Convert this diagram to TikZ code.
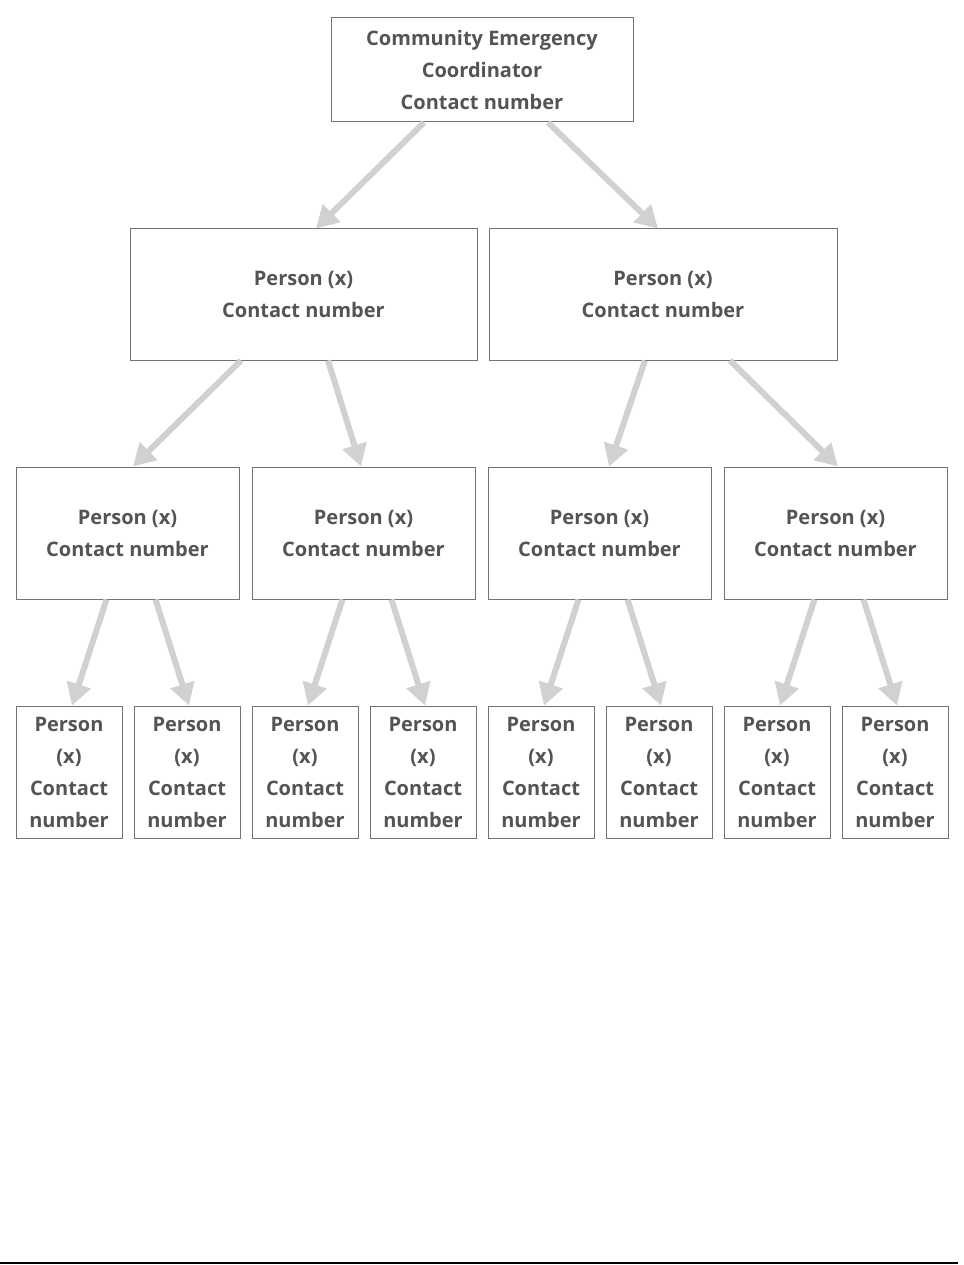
\documentclass[tikz,border=0pt]{standalone}
\usepackage{fontspec}
\setmainfont{Open Sans}
\usetikzlibrary{arrows.meta}
\definecolor{boxtext}{rgb}{0.33,0.33,0.33}
\definecolor{boxline}{rgb}{0.45,0.45,0.45}
\definecolor{arrowgray}{rgb}{0.82,0.82,0.82}
\tikzset{
  box/.style={draw=boxline,line width=1pt,inner sep=0pt,align=center,
    text=boxtext,font=\fontsize{20}{32}\selectfont\bfseries},
  link/.style={draw=arrowgray,line width=6pt,-{Triangle[width=24pt,length=22pt]}}
}
\begin{document}
\begin{tikzpicture}[x=1pt,y=-1pt]
\useasboundingbox (0,0) rectangle (963,1265);

\node[box,minimum width=302,minimum height=104] (top) at (482,70)
  {Community Emergency\\Coordinator\\Contact number};

\node[box,minimum width=347,minimum height=131] (mid1) at (303.5,294.5) {Person (x)\\Contact number};
\node[box,minimum width=348,minimum height=131] (mid2) at (663,294.5) {Person (x)\\Contact number};

\foreach \i/\cx in {1/127.5,2/363.5,3/599.5,4/835.5}
  \node[box,minimum width=223,minimum height=132] (grp\i) at (\cx,533) {Person (x)\\Contact number};

\foreach \i/\cx in {1/69,2/187,3/305,4/423,5/541,6/659,7/777,8/895}
  \node[box,minimum width=106,minimum height=132] (ppl\i) at (\cx,772) {Person\\(x)\\Contact\\number};

% arrows
\draw[link] ([xshift=-58]top.south) -- ([xshift=12.5]mid1.north);
\draw[link] ([xshift=66]top.south) -- ([xshift=-5]mid2.north);
\draw[link] ([xshift=-62.5]mid1.south) -- ([xshift=5.5]grp1.north);
\draw[link] ([xshift=24.5]mid1.south) -- ([xshift=-2.5]grp2.north);
\draw[link] ([xshift=-18]mid2.south) -- ([xshift=9.5]grp3.north);
\draw[link] ([xshift=67]mid2.south) -- ([xshift=2.5]grp4.north);
\foreach \g/\a/\b in {1/1/2,2/3/4,3/5/6,4/7/8} {
  \draw[link] ([xshift=-21]grp\g.south) -- ([xshift=3]ppl\a.north);
  \draw[link] ([xshift=28]grp\g.south) -- ([xshift=2]ppl\b.north);
}

\draw[line width=2pt] (0,1263) -- (958,1263);
\end{tikzpicture}
\end{document}
